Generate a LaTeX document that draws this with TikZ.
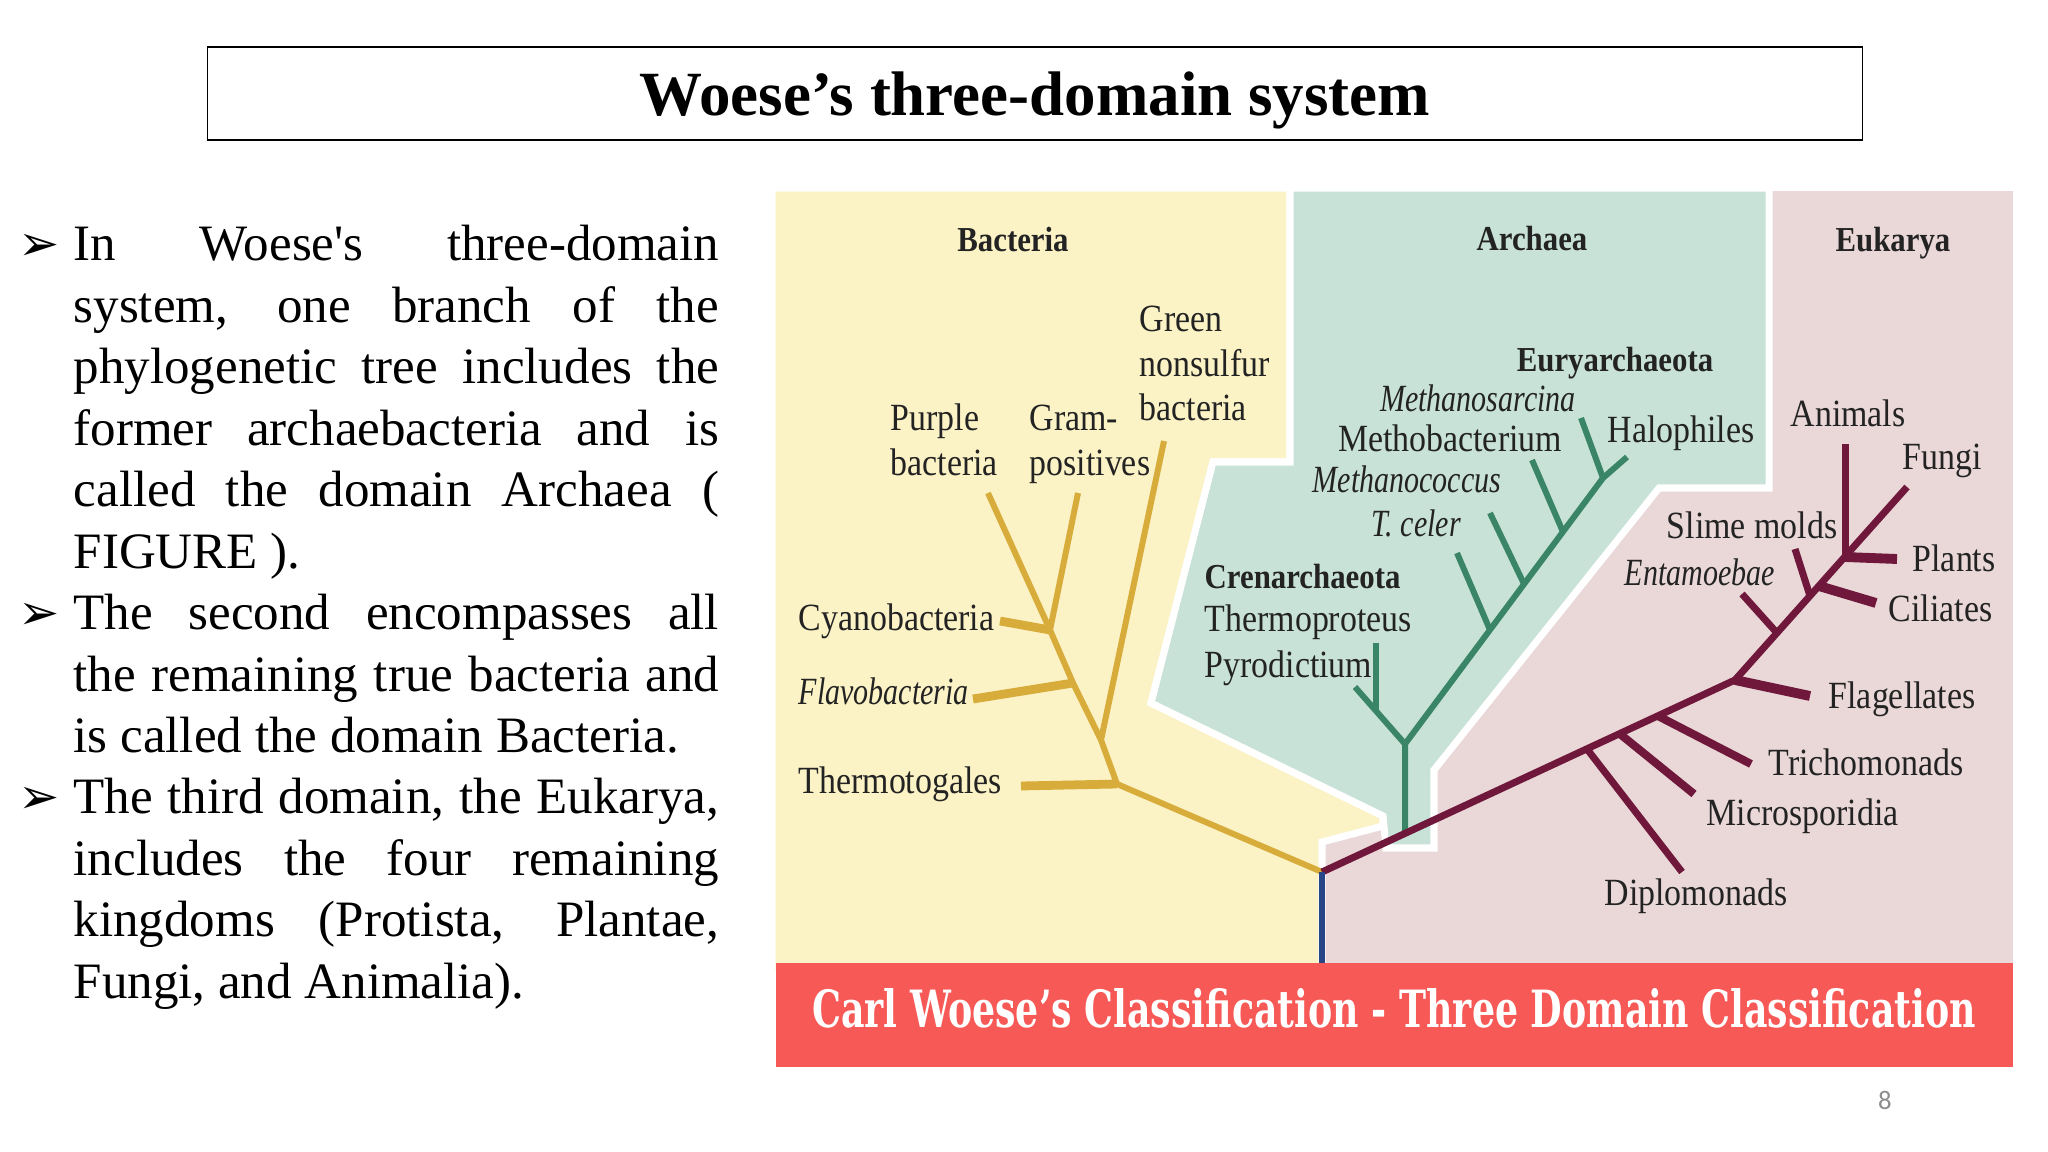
\documentclass[tikz,border=0pt]{standalone}
\usepackage{fontspec}
\usepackage{graphicx}
\setmainfont{Liberation Serif}
\newfontfamily\figfont[FakeStretch=0.88]{Liberation Serif}
\newfontfamily\figitfont[FakeStretch=0.78]{Liberation Serif}
\newfontfamily\symfont{DejaVu Sans}
\newfontfamily\bannerfont{DejaVu Serif}
\newfontfamily\pagefont{Carlito}
\usetikzlibrary{positioning}

\definecolor{bactbg}{RGB}{251,242,197}
\definecolor{archbg}{RGB}{200,226,215}
\definecolor{eukbg}{RGB}{234,216,216}
\definecolor{bactline}{RGB}{215,172,58}
\definecolor{archline}{RGB}{58,133,104}
\definecolor{eukline}{RGB}{112,24,60}
\definecolor{rootline}{RGB}{40,70,135}
\definecolor{bannerred}{RGB}{247,89,86}
\definecolor{figtext}{RGB}{35,35,35}
\definecolor{pagegray}{RGB}{140,140,140}

\newcommand{\stacklines}[1]{\begin{tabular}[t]{@{}l@{}}#1\end{tabular}}
\newcommand{\bulletmark}{\makebox[0.55cm][l]{\symfont\fontsize{14pt}{14pt}\selectfont\char"27A2}}
\newcommand{\bulletpar}[1]{\hangindent=0.55cm\hangafter=1\noindent\bulletmark#1\par}

\tikzset{
  lbl/.style={inner sep=0pt, text=figtext, font=\figfont\fontsize{10.95pt}{12.52pt}\selectfont},
  lblit/.style={lbl, font=\figitfont\itshape\fontsize{10.95pt}{12.52pt}\selectfont},
  lblbf/.style={lbl, font=\figfont\bfseries\fontsize{9.96pt}{12pt}\selectfont},
  domainbg/.style={draw=white, line width=2pt},
  bbranch/.style={draw=bactline, line width=1.7pt, line join=round},
  bstub/.style={draw=bactline, line width=2.5pt},
  abranch/.style={draw=archline, line width=1.7pt, line join=round},
  ebranch/.style={draw=eukline, line width=2pt, line join=round},
  estub/.style={draw=eukline, line width=2.8pt},
}

\begin{document}
\begin{tikzpicture}[x=0.01cm, y=-0.01cm]
\useasboundingbox (0,0) rectangle (2048,1152);

\node[draw, line width=0.5pt, minimum width=16.54cm, minimum height=0.93cm, inner sep=0pt, text depth=0pt,
  font=\bfseries\fontsize{17.9pt}{20pt}\selectfont] (title) at (1035,93.5) {Woese’s three-domain system};

\node[anchor=base west, inner sep=0pt] (bodytext) at (18,261) {\parbox[t]{7cm}{%
  \fontsize{14.51pt}{17.47pt}\selectfont\tolerance=10000\hbadness=10000\parindent=0pt
  \bulletpar{In Woese\textquotesingle s three-domain\linebreak system, one branch of the\linebreak phylogenetic tree includes the\linebreak former archaebacteria and is\linebreak called the domain Archaea (\linebreak FIGURE ).}
  \bulletpar{The second encompasses all\linebreak the remaining true bacteria and\linebreak is called the domain Bacteria.}
  \bulletpar{The third domain, the Eukarya,\linebreak includes the four remaining\linebreak kingdoms (Protista, Plantae,\linebreak Fungi, and Animalia).}}};

\fill[eukbg] (776,191) rectangle (2013,963);
\filldraw[domainbg, fill=bactbg] (772,188) -- (1290,188) -- (1290,462) -- (1213,462) -- (1151,703) -- (1383,816)
  -- (1383,826) -- (1322,842) -- (1322,975) -- (772,975) -- cycle;
\filldraw[domainbg, fill=archbg] (1290,188) -- (1769,188) -- (1769,488) -- (1659,488) -- (1434,770) -- (1434,848)
  -- (1386,848) -- (1383,816) -- (1151,703) -- (1213,462) -- (1290,462) -- cycle;

\coordinate (root) at (1322,872);
\coordinate (rootbase) at (1322,963);

\coordinate (bthermo) at (1117,784);
\coordinate (bgns) at (1101,740);
\coordinate (bflavo) at (1073,683);
\coordinate (bcyano) at (1050,630);
\coordinate (thermoend) at (1021,786);
\coordinate (gnsend) at (1164,441);
\coordinate (flavoend) at (973,699);
\coordinate (cyanoend) at (1000,621);
\coordinate (purpleend) at (988,493);
\coordinate (gramend) at (1078,493);

\draw[bbranch] (root) -- (bthermo) -- (bgns) -- (bflavo) -- (bcyano) -- (purpleend);
\draw[bbranch] (bcyano) -- (gramend);
\draw[bbranch] (bgns) -- (gnsend);
\draw[bstub] (bthermo) -- (thermoend);
\draw[bstub] (bflavo) -- (flavoend);
\draw[bstub] (bcyano) -- (cyanoend);

\coordinate (astem) at (1405,834);
\coordinate (asplit) at (1405,744);
\coordinate (acren) at (1355,687);
\coordinate (apyro) at (1376,711);
\coordinate (apyroend) at (1376,643);
\coordinate (aceler) at (1490,630);
\coordinate (acocc) at (1524,584);
\coordinate (abact) at (1563,532);
\coordinate (afork) at (1603,478);
\coordinate (celerend) at (1457,553);
\coordinate (coccend) at (1490,513);
\coordinate (bactend) at (1532,460);
\coordinate (sarcinaend) at (1581,418);
\coordinate (haloend) at (1627,457);

\draw[abranch] (astem) -- (asplit) -- (afork) -- (haloend);
\draw[abranch] (asplit) -- (acren);
\draw[abranch] (apyro) -- (apyroend);
\draw[abranch] (aceler) -- (celerend);
\draw[abranch] (acocc) -- (coccend);
\draw[abranch] (abact) -- (bactend);
\draw[abranch] (afork) -- (sarcinaend);

\coordinate (ediplo) at (1587,749);
\coordinate (emicro) at (1620,734);
\coordinate (etricho) at (1658,716);
\coordinate (eflag) at (1735,680);
\coordinate (eent) at (1777,633);
\coordinate (eslime) at (1810,596);
\coordinate (ecil) at (1819,586);
\coordinate (eplant) at (1845,557);
\coordinate (fungiend) at (1907,487);
\coordinate (diploend) at (1682,872);
\coordinate (microend) at (1694,794);
\coordinate (trichoend) at (1751,764);
\coordinate (flagend) at (1810,696);
\coordinate (entend) at (1742,594);
\coordinate (slimeend) at (1795,549);
\coordinate (cilend) at (1876,603);
\coordinate (plantend) at (1897,559);
\coordinate (animalend) at (1845,444);

\draw[ebranch] (root) -- (eflag) -- (fungiend);
\draw[ebranch] (ediplo) -- (diploend);
\draw[ebranch, line width=2.3pt] (emicro) -- (microend);
\draw[ebranch, line width=2.3pt] (etricho) -- (trichoend);
\draw[estub] (eflag) -- (flagend);
\draw[ebranch] (eent) -- (entend);
\draw[ebranch] (eslime) -- (slimeend);
\draw[estub] (ecil) -- (cilend);
\draw[estub] (eplant) -- (plantend);
\draw[ebranch] (eplant) -- (animalend);

\draw[rootline, line width=1.5pt] (root) -- (rootbase);

\node[lblbf, anchor=base] (bacteria) at (1013,252) {Bacteria};
\node[lblbf, anchor=base] (archaea) at (1532,251) {Archaea};
\node[lblbf, anchor=base] (eukarya) at (1893,252) {Eukarya};

\node[lbl, anchor=base west] (gns) at (1139,332) {\stacklines{Green\\nonsulfur\\bacteria}};
\node[lbl, anchor=base west] (purple) at (890,431) {\stacklines{Purple\\bacteria}};
\node[lbl, anchor=base west] (gram) at (1029,431) {\stacklines{Gram-\\positives}};
\node[lbl, anchor=base west] (cyano) at (798,630) {Cyanobacteria};
\node[lblit, anchor=base west] (flavo) at (798,705) {Flavobacteria};
\node[lbl, anchor=base west] (thermotogales) at (798,793) {Thermotogales};

\node[lblbf, anchor=base] (eury) at (1615,372) {Euryarchaeota};
\node[lblit, anchor=base] (sarcina) at (1478,412) {Methanosarcina};
\node[lbl, anchor=base] (methobact) at (1450,452) {Methobacterium};
\node[lbl, anchor=base west] (halo) at (1607,443) {Halophiles};
\node[lblit, anchor=base] (cocc) at (1407,493) {Methanococcus};
\node[lblit, anchor=base] (celer) at (1416,537) {T. celer};
\node[lblbf, anchor=base west] (cren) at (1204,588) {Crenarchaeota};
\node[lbl, anchor=base west] (thermoproteus) at (1204,632) {Thermoproteus};
\node[lbl, anchor=base west] (pyro) at (1204,677) {Pyrodictium};

\node[lbl, anchor=base] (animals) at (1848,427) {Animals};
\node[lbl, anchor=base west] (fungi) at (1902,470) {Fungi};
\node[lbl, anchor=base] (slime) at (1752,538) {Slime molds};
\node[lblit, anchor=base] (entamoebae) at (1700,585) {Entamoebae};
\node[lbl, anchor=base west] (plants) at (1912,572) {Plants};
\node[lbl, anchor=base west] (ciliates) at (1888,622) {Ciliates};
\node[lbl, anchor=base west] (flagellates) at (1828,708) {Flagellates};
\node[lbl, anchor=base west] (trichomonads) at (1768,775) {Trichomonads};
\node[lbl, anchor=base west] (microsporidia) at (1706,825) {Microsporidia};
\node[lbl, anchor=base] (diplomonads) at (1696,905) {Diplomonads};

\fill[bannerred] (776,963) rectangle (2013,1067);
\node[anchor=base, inner sep=0pt, text=white] (bannertext) at (1394,1027)
  {\resizebox{11.63cm}{0.39cm}{\bannerfont\bfseries Carl Woese’s Classification - Three Domain Classification}};

\node[anchor=base, inner sep=0pt, text=pagegray, font=\pagefont\fontsize{7.6pt}{8pt}\selectfont] (pagenum) at (1885,1109) {8};
\end{tikzpicture}
\end{document}
